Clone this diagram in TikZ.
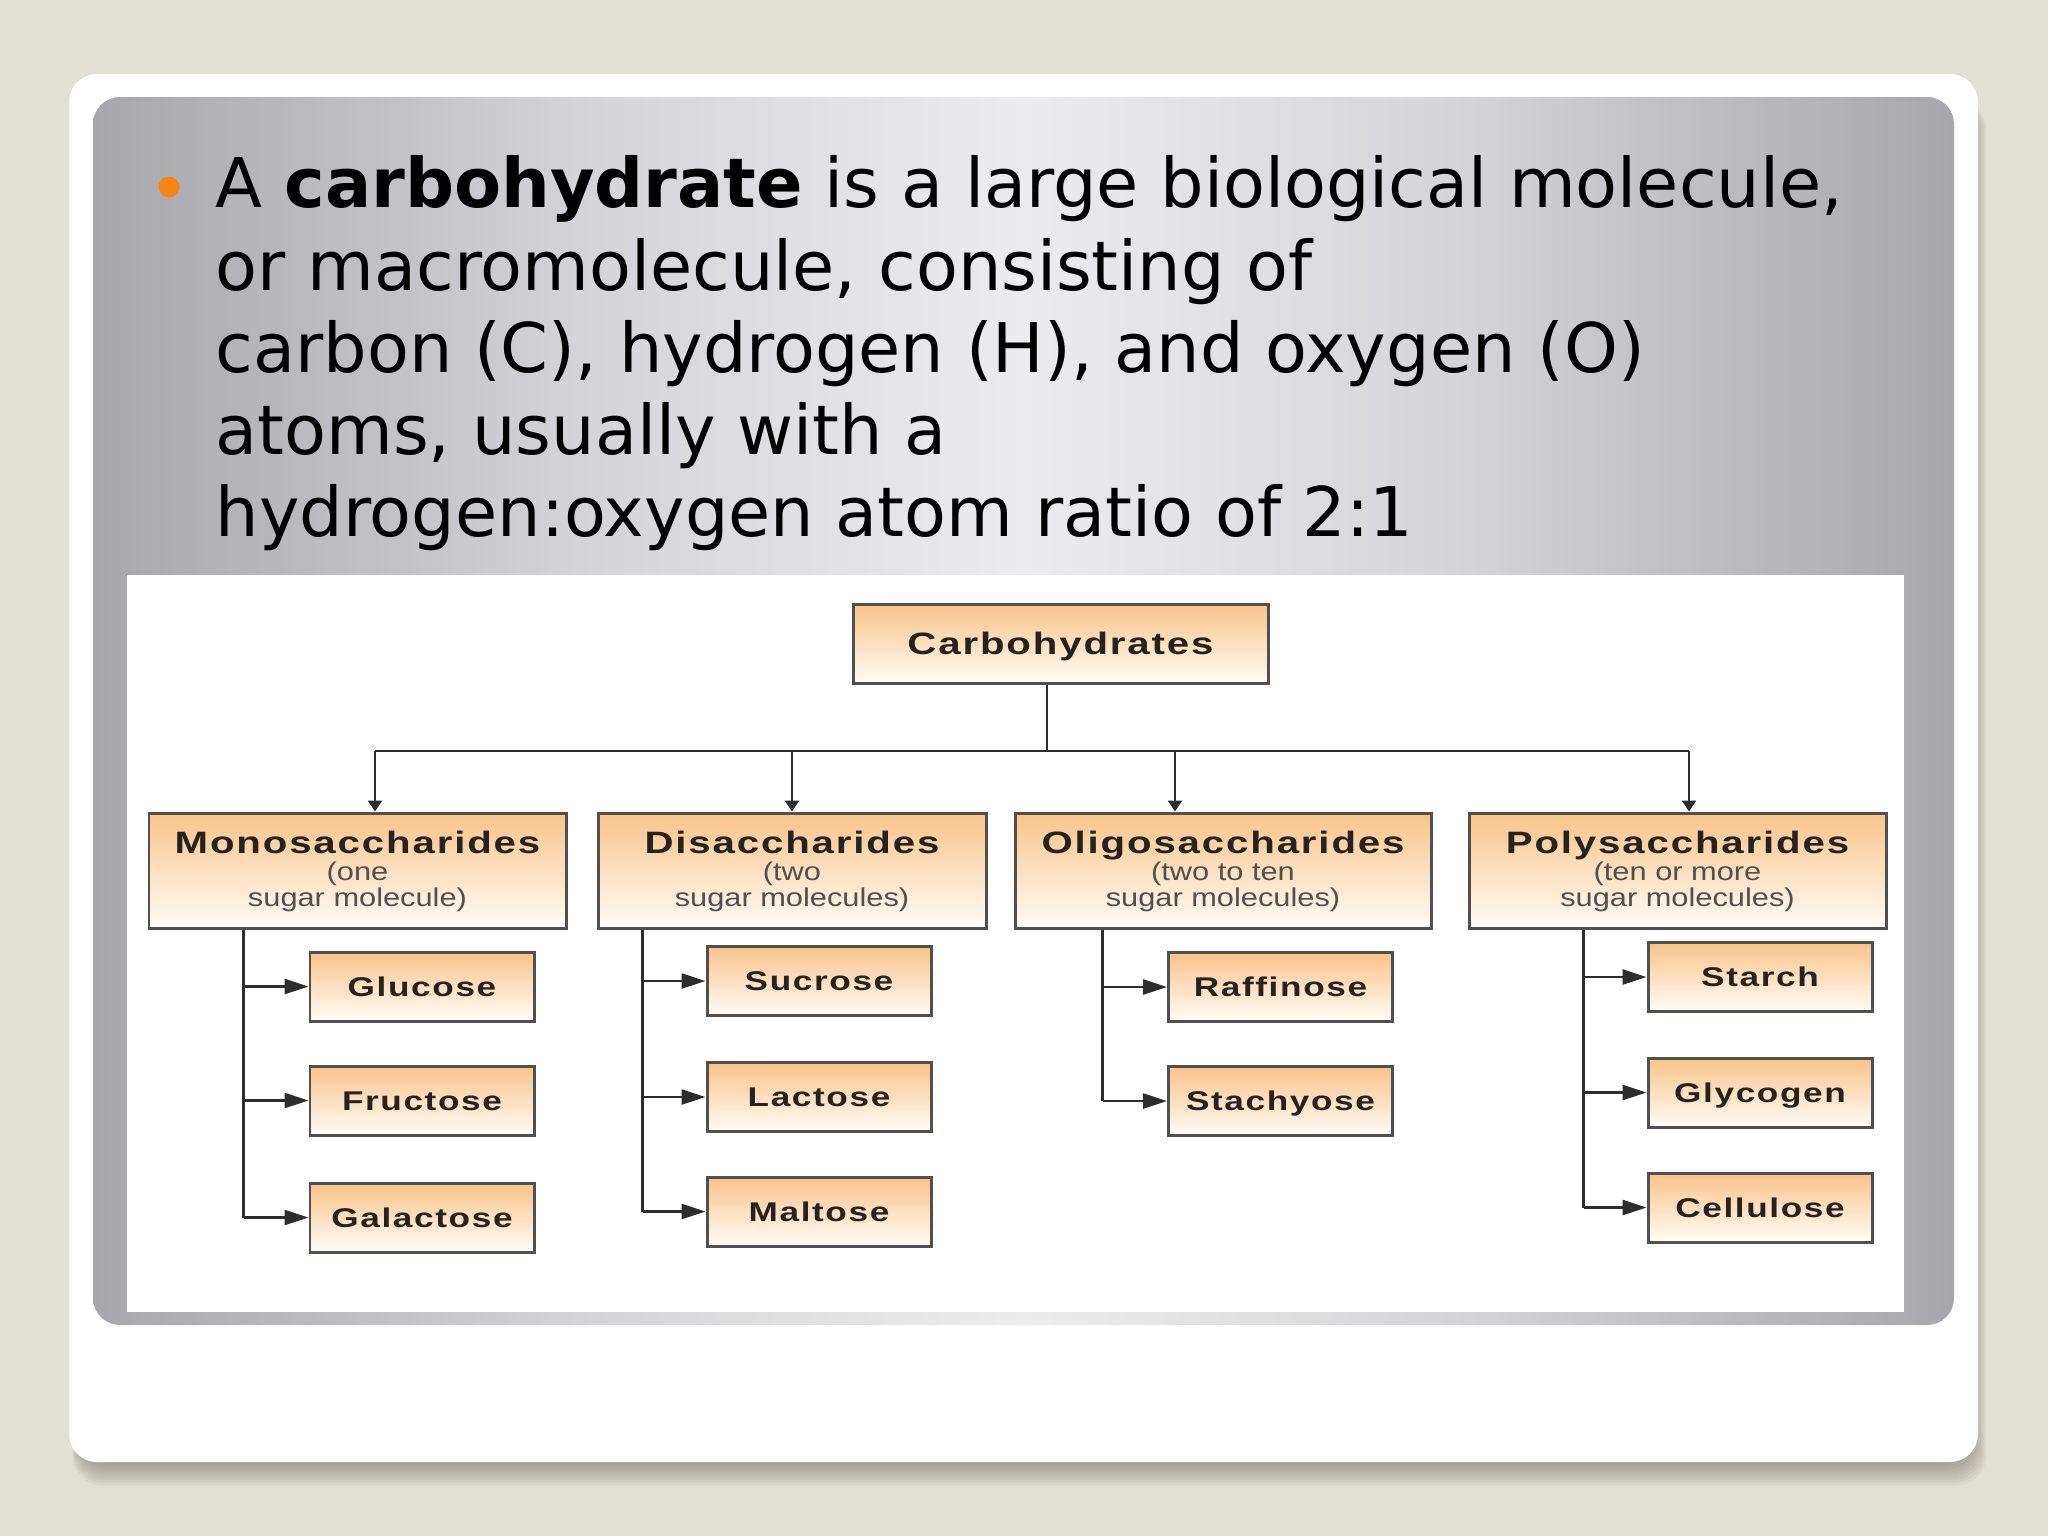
\documentclass[tikz,border=0pt]{standalone}
\usepackage{fontspec}
\setmainfont{DejaVu Sans}
\newfontfamily\diab{Liberation Sans}[FakeStretch=1.3,LetterSpace=6]
\newfontfamily\diar{Liberation Sans}[FakeStretch=1.2]
\usetikzlibrary{arrows.meta,calc}
\definecolor{bgc}{RGB}{226,223,211}
\definecolor{shadowc}{RGB}{115,110,98}
\definecolor{pedge}{RGB}{166,166,171}
\definecolor{pmid}{RGB}{212,212,216}
\definecolor{plight}{RGB}{236,236,238}
\definecolor{bulletc}{RGB}{247,133,22}
\definecolor{boxtop}{RGB}{249,195,138}
\definecolor{boxmid}{RGB}{253,226,196}
\definecolor{boxbot}{RGB}{255,252,246}
\definecolor{boxline}{RGB}{80,80,80}
\definecolor{connc}{RGB}{45,45,45}
\definecolor{diatext}{RGB}{38,34,30}
\definecolor{subtext}{RGB}{80,80,80}
\pgfdeclarehorizontalshading{panelshade}{100bp}{color(0bp)=(pedge); color(25bp)=(pedge); color(38bp)=(pmid); color(50bp)=(plight); color(62bp)=(pmid); color(75bp)=(pedge); color(100bp)=(pedge)}
\tikzset{
  bodytext/.style={anchor=base west, inner sep=0pt, font=\fontsize{19.5pt}{23pt}\selectfont, text=black},
  boxbase/.style={rectangle, draw=boxline, line width=0.85pt, top color=boxtop, middle color=boxmid, bottom color=boxbot, inner sep=0pt},
  rootbox/.style={boxbase, minimum width=41.5mm, minimum height=7.9mm, text height=2.2mm, text depth=0mm, text=diatext, font=\diab\bfseries\fontsize{8.8pt}{10pt}\selectfont},
  catbox/.style={boxbase, minimum height=11.5mm},
  leafbox/.style={boxbase, minimum width=22.4mm, minimum height=6.9mm, text height=1.95mm, text depth=0mm, text=diatext, font=\diab\bfseries\fontsize{7.7pt}{9pt}\selectfont},
  cattitle/.style={anchor=base, inner sep=0pt, text=diatext, font=\diab\bfseries\fontsize{8.8pt}{10pt}\selectfont},
  catsub/.style={anchor=base, inner sep=0pt, text=subtext, font=\diar\fontsize{7.3pt}{8pt}\selectfont},
  conn/.style={draw=connc, line width=0.7pt},
  downarr/.style={conn, -{Triangle[length=1.1mm,width=1.4mm]}},
  rightarr/.style={conn, -{Triangle[length=2.4mm,width=1.5mm]}}
}
\begin{document}
\begin{tikzpicture}[x=0.1mm,y=-0.1mm]
\useasboundingbox (0,0) rectangle (2048,1536);
\fill[bgc] (0,0) rectangle (2048,1536);
% card shadow
\foreach \k in {0,...,9} {
  \fill[shadowc, opacity=0.08, rounded corners=3mm] (78-0.6*\k,100) rectangle (1970+1.8*\k,1462+2.6*\k);
}
% card
\fill[white, rounded corners=2.8mm] (69,74) rectangle (1978,1462);
% grey panel
\shade[shading=panelshade, rounded corners=2.7mm] (93,97) rectangle (1954,1325);
% diagram image background
\fill[white] (127,575) rectangle (1904,1312);

% bullet text
\node[circle, fill=bulletc, minimum size=2.1mm, inner sep=0pt] (bullet) at (169,187) {};
\node[bodytext] (t1) at (215,207) {A \textbf{carbohydrate} is a large biological molecule,};
\node[bodytext] (t2) at (215,290) {or macromolecule, consisting of};
\node[bodytext] (t3) at (215,372) {carbon (C), hydrogen (H), and oxygen (O)};
\node[bodytext] (t4) at (215,454) {atoms, usually with a};
\node[bodytext] (t5) at (215,536) {hydrogen:oxygen atom ratio of 2:1};

% root
\node[rootbox] (carb) at (1060.5,643.5) {Carbohydrates};

% categories
\node[catbox, minimum width=41.7mm] (mono) at (357.5,870.5) {};
\node[catbox, minimum width=38.8mm] (di) at (792,870.5) {};
\node[catbox, minimum width=41.6mm] (oligo) at (1223,870.5) {};
\node[catbox, minimum width=41.7mm] (poly) at (1677.5,870.5) {};

\node[cattitle] (monoT) at ($(mono.north)+(0,42)$) {Monosaccharides};
\node[catsub] (monoA) at ($(mono.north)+(0,69)$) {(one};
\node[catsub] (monoB) at ($(mono.north)+(0,95)$) {sugar molecule)};
\node[cattitle] (diT) at ($(di.north)+(0,42)$) {Disaccharides};
\node[catsub] (diA) at ($(di.north)+(0,69)$) {(two};
\node[catsub] (diB) at ($(di.north)+(0,95)$) {sugar molecules)};
\node[cattitle] (oligoT) at ($(oligo.north)+(0,42)$) {Oligosaccharides};
\node[catsub] (oligoA) at ($(oligo.north)+(0,69)$) {(two to ten};
\node[catsub] (oligoB) at ($(oligo.north)+(0,95)$) {sugar molecules)};
\node[cattitle] (polyT) at ($(poly.north)+(0,42)$) {Polysaccharides};
\node[catsub] (polyA) at ($(poly.north)+(0,69)$) {(ten or more};
\node[catsub] (polyB) at ($(poly.north)+(0,95)$) {sugar molecules)};

% leaves
\node[leafbox] (glucose) at (422,986.5) {Glucose};
\node[leafbox] (fructose) at (422,1100.5) {Fructose};
\node[leafbox] (galactose) at (422,1217.5) {Galactose};
\node[leafbox] (sucrose) at (819,981) {Sucrose};
\node[leafbox] (lactose) at (819,1097) {Lactose};
\node[leafbox] (maltose) at (819,1211.5) {Maltose};
\node[leafbox] (raffinose) at (1280.5,987) {Raffinose};
\node[leafbox] (stachyose) at (1280.5,1101) {Stachyose};
\node[leafbox] (starch) at (1760,977) {Starch};
\node[leafbox] (glycogen) at (1760,1092.5) {Glycogen};
\node[leafbox] (cellulose) at (1760,1207.5) {Cellulose};

% top connectors
\coordinate (hub) at (1047,751);
\coordinate (hl) at (375,751);
\coordinate (hd) at (792,751);
\coordinate (ho) at (1175,751);
\coordinate (hr) at (1689,751);
\draw[conn] (hub |- carb.south) -- (hub);
\draw[conn] (hl) -- (hr);
\draw[downarr] (hl) -- (hl |- mono.north);
\draw[downarr] (hd) -- (hd |- di.north);
\draw[downarr] (ho) -- (ho |- oligo.north);
\draw[downarr] (hr) -- (hr |- poly.north);

% trunks
\coordinate (mt) at ([xshift=9.6mm]mono.south west);
\coordinate (dt) at ([xshift=4.6mm]di.south west);
\coordinate (ot) at ([xshift=8.9mm]oligo.south west);
\coordinate (pt) at ([xshift=11.6mm]poly.south west);
\draw[conn] (mt) -- (mt |- galactose.west);
\draw[rightarr] (mt |- glucose.west) -- (glucose.west);
\draw[rightarr] (mt |- fructose.west) -- (fructose.west);
\draw[rightarr] (mt |- galactose.west) -- (galactose.west);
\draw[conn] (dt) -- (dt |- maltose.west);
\draw[rightarr] (dt |- sucrose.west) -- (sucrose.west);
\draw[rightarr] (dt |- lactose.west) -- (lactose.west);
\draw[rightarr] (dt |- maltose.west) -- (maltose.west);
\draw[conn] (ot) -- (ot |- stachyose.west);
\draw[rightarr] (ot |- raffinose.west) -- (raffinose.west);
\draw[rightarr] (ot |- stachyose.west) -- (stachyose.west);
\draw[conn] (pt) -- (pt |- cellulose.west);
\draw[rightarr] (pt |- starch.west) -- (starch.west);
\draw[rightarr] (pt |- glycogen.west) -- (glycogen.west);
\draw[rightarr] (pt |- cellulose.west) -- (cellulose.west);
\end{tikzpicture}
\end{document}
